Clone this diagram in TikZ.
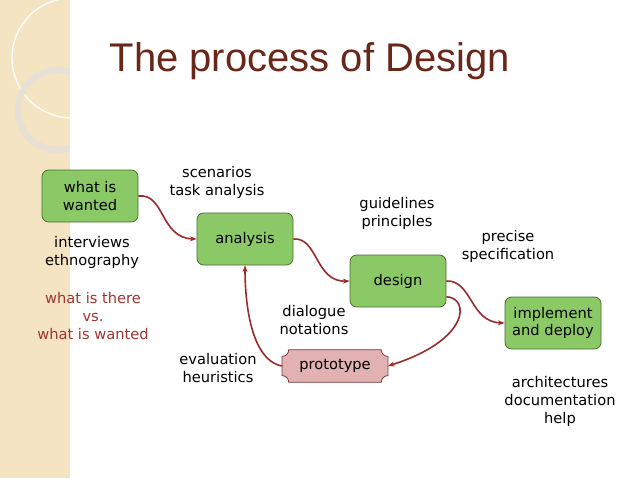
\documentclass[tikz,border=0pt]{standalone}
\usepackage{fontspec}
\usetikzlibrary{arrows.meta}
\setmainfont{DejaVu Sans}
\newfontfamily\titlefont{Liberation Sans}
\definecolor{beige}{RGB}{245,228,194}
\definecolor{boxgreen}{RGB}{139,201,102}
\definecolor{boxedge}{RGB}{70,110,45}
\definecolor{protofill}{RGB}{226,178,178}
\definecolor{protoedge}{RGB}{120,60,60}
\definecolor{arrred}{RGB}{155,44,44}
\definecolor{titlered}{RGB}{105,38,25}
\definecolor{textred}{RGB}{160,53,46}
\definecolor{ringc}{RGB}{230,225,212}
\begin{document}
\begin{tikzpicture}[x=0.75pt,y=-0.75pt,
  box/.style={draw=boxedge,fill=boxgreen,rounded corners=5pt,minimum width=72pt,minimum height=39pt,align=center,font=\fontsize{11}{13}\selectfont,line width=0.6pt},
  lbl/.style={align=center,font=\fontsize{11}{13.5}\selectfont},
  arr/.style={draw=arrred,line width=1.2pt,-{Stealth[length=5pt]}}]
\useasboundingbox (0,0) rectangle (638,478);
\fill[white] (0,0) rectangle (638,478);
\fill[beige] (0,0) rectangle (70,478);
\begin{scope}
\clip (0,0) rectangle (70,478);
\draw[white,line width=1pt] (72,58) circle (60);
\draw[ringc,line width=5pt] (58,110) circle (40);
\end{scope}
\node[font=\titlefont\fontsize{30}{34}\selectfont,text=titlered,anchor=west] (title) at (105,61) {The process of Design};
\node[box] (want) at (90,196) {what is\\wanted};
\node[box] (ana) at (245,239) {analysis};
\node[box] (des) at (398,281) {design};
\node[box] (imp) at (553,323) {implement\\and deploy};
\node[minimum width=79pt,minimum height=24pt] (pro) at (335,366) {};
\fill[protofill,draw=protoedge,line width=0.6pt]
 ([xshift=5pt]pro.north west) -- ([xshift=-5pt]pro.north east) arc[start angle=180,end angle=270,radius=5pt]
 -- ([yshift=5pt]pro.south east) arc[start angle=90,end angle=180,radius=5pt]
 -- ([xshift=5pt]pro.south west) arc[start angle=0,end angle=90,radius=5pt]
 -- ([yshift=-5pt]pro.north west) arc[start angle=270,end angle=360,radius=5pt] -- cycle;
\node[lbl] (protext) at (pro) {prototype};
\node[lbl] (l1) at (217,182) {scenarios\\task analysis};
\node[lbl] (l2) at (92,252) {interviews\\ethnography};
\node[lbl,text=textred] (l3) at (93,316) {what is there\\vs.\\what is wanted};
\node[lbl] (l4) at (397,213) {guidelines\\principles};
\node[lbl] (l5) at (508,246) {precise\\specification};
\node[lbl] (l6) at (314,320) {dialogue\\notations};
\node[lbl] (l7) at (218,368) {evaluation\\heuristics};
\node[lbl] (l8) at (560,401) {architectures\\documentation\\help};
\draw[arr] (want.east) .. controls (165,193) and (160,238) .. (ana.west);
\draw[arr] (ana.east) .. controls (318,237) and (315,282) .. (des.west);
\draw[arr] (des.east) .. controls (472,280) and (470,322) .. (imp.west);
\draw[arr] ([yshift=8pt]des.south east) .. controls (470,298) and (470,340) .. (pro.east);
\draw[arr] (pro.west) .. controls (250,360) and (245,300) .. (ana.south);
\end{tikzpicture}
\end{document}
